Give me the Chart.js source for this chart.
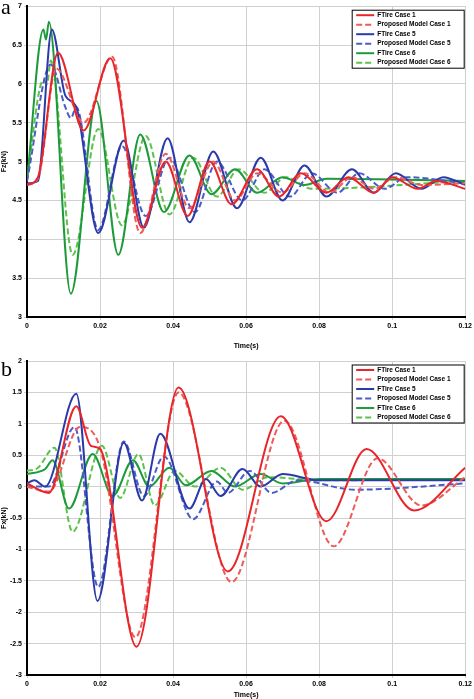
<!DOCTYPE html>
<html><head><script src="https://cdn.jsdelivr.net/npm/chart.js@4"></script>
<style>body{margin:0;background:#fff;width:474px;height:699px;overflow:hidden;font-family:"Liberation Serif"}
.w{position:absolute;left:0;width:474px}.lab{position:absolute;left:1px;font:22px "Liberation Serif";z-index:2}</style></head>
<body>
<div class="w" style="top:0;height:350px"><canvas id="c1"></canvas></div>
<div class="w" style="top:350px;height:349px"><canvas id="c2"></canvas></div>
<div class="lab" style="top:-6px">a</div><div class="lab" style="top:356px">b</div>
<script>
const labels=["FTire Case 1","Proposed Model Case 1","FTire Case 5","Proposed Model Case 5","FTire Case 6","Proposed Model Case 6"];
const colors=["#e8262a","#ef5a5a","#2a3aa8","#4a5cc8","#1d9a3a","#5cc24a"];
const xTicks=[0,0.02,0.04,0.06,0.08,0.1,0.12];
const fzT=[[0,4.7],[0.003,4.8],[0.0085,6.4],[0.0155,5.4],[0.0228,6.33],[0.0315,4.15],[0.038,5.0],[0.044,4.3],[0.05,5.0],[0.056,4.45],[0.063,4.9],[0.069,4.55],[0.075,4.85],[0.082,4.6],[0.088,4.8],[0.095,4.6],[0.1,4.8],[0.107,4.65],[0.112,4.75],[0.12,4.65]];
const fzP1=[[0,4.7],[0.003,4.78],[0.008,6.2],[0.0155,5.5],[0.0233,6.35],[0.031,4.08],[0.038,5.1],[0.0445,4.4],[0.051,5.0],[0.057,4.5],[0.063,4.85],[0.07,4.6],[0.076,4.85],[0.083,4.6],[0.089,4.8],[0.095,4.65],[0.101,4.8],[0.108,4.7],[0.12,4.72]];
const fzT5=[[0,4.72],[0.003,4.75],[0.0068,6.7],[0.0105,5.85],[0.0135,5.7],[0.0195,4.08],[0.0265,5.27],[0.032,4.15],[0.0385,5.3],[0.0445,4.22],[0.051,5.13],[0.0575,4.4],[0.064,5.05],[0.07,4.5],[0.076,4.95],[0.082,4.55],[0.089,4.9],[0.095,4.6],[0.101,4.85],[0.108,4.65],[0.114,4.8],[0.12,4.7]];
const fzP5=[[0,4.75],[0.0065,6.25],[0.0105,5.7],[0.012,5.56],[0.0135,5.7],[0.0195,4.12],[0.026,5.2],[0.0325,4.3],[0.039,5.05],[0.046,4.35],[0.052,5.0],[0.059,4.5],[0.065,4.9],[0.072,4.55],[0.078,4.85],[0.085,4.6],[0.091,4.85],[0.098,4.65],[0.104,4.8],[0.12,4.72]];
const fzT6=[[0,4.75],[0.0045,6.7],[0.0052,6.57],[0.006,6.8],[0.012,3.3],[0.019,5.78],[0.025,3.8],[0.031,5.35],[0.0375,4.35],[0.0445,5.08],[0.0505,4.58],[0.057,4.9],[0.063,4.6],[0.07,4.8],[0.076,4.7],[0.082,4.78],[0.12,4.75]];
const fzP6=[[0,4.8],[0.0045,6.05],[0.0055,6.0],[0.0065,6.3],[0.0125,3.8],[0.0195,5.42],[0.026,4.18],[0.0325,5.33],[0.039,4.32],[0.0455,5.05],[0.052,4.55],[0.058,4.9],[0.065,4.6],[0.071,4.8],[0.078,4.65],[0.12,4.75]];
const fxT1=[[0,0.05],[0.006,-0.1],[0.0135,1.28],[0.0175,0.65],[0.02,0.6],[0.03,-2.55],[0.0415,1.58],[0.055,-1.35],[0.0695,1.12],[0.082,-0.55],[0.093,0.6],[0.106,-0.38],[0.12,0.3]];
const fxP1=[[0,0.0],[0.006,-0.08],[0.0145,0.95],[0.02,0.62],[0.0297,-2.4],[0.0415,1.5],[0.056,-1.52],[0.0705,1.05],[0.084,-0.95],[0.096,0.45],[0.108,-0.3],[0.12,0.15]];
const fxT5=[[0,0.05],[0.002,0.1],[0.005,0.0],[0.0135,1.48],[0.0193,-1.82],[0.0265,0.7],[0.0315,-0.22],[0.0365,0.84],[0.0445,-0.35],[0.049,0.12],[0.053,-0.15],[0.059,0.28],[0.064,0.0],[0.07,0.2],[0.08,0.1],[0.09,0.1],[0.12,0.1]];
const fxP5=[[0,0.0],[0.006,0.0],[0.013,0.95],[0.0195,-1.6],[0.0265,0.72],[0.032,-0.15],[0.0375,0.48],[0.0455,-0.52],[0.052,0.08],[0.055,-0.1],[0.061,0.25],[0.067,-0.1],[0.074,0.1],[0.09,-0.05],[0.12,0.05]];
const fxT6=[[0,0.2],[0.005,0.28],[0.007,0.42],[0.0115,-0.35],[0.018,0.52],[0.0235,-0.15],[0.029,0.42],[0.0335,0.0],[0.039,0.3],[0.0435,0.02],[0.0505,0.25],[0.057,0.0],[0.064,0.2],[0.07,0.05],[0.08,0.12],[0.12,0.12]];
const fxP6=[[0,0.25],[0.003,0.3],[0.0075,0.62],[0.0125,-0.72],[0.0205,0.65],[0.0255,-0.18],[0.0305,0.52],[0.035,-0.3],[0.0405,0.25],[0.046,0.0],[0.053,0.3],[0.059,-0.05],[0.066,0.15],[0.08,0.1],[0.12,0.12]];

const legendBox={id:'lb',afterDraw(c){const x=c.ctx,a=c.chartArea,w=112,h=58,L=a.right-w-1,T=a.top+4;
x.save();x.fillStyle='#fff';x.fillRect(L,T,w,h);x.strokeStyle='#000';x.lineWidth=1;x.strokeRect(L,T,w,h);
x.font='bold 6.5px "Liberation Sans"';x.textBaseline='middle';
c.data.datasets.forEach((d,i)=>{const y=T+5+i*9.5;x.strokeStyle=d.borderColor;x.lineWidth=2;x.setLineDash(d.borderDash||[]);
x.beginPath();x.moveTo(L+4,y);x.lineTo(L+22,y);x.stroke();x.setLineDash([]);x.fillStyle='#000';x.fillText(d.label,L+25,y);});
x.restore();}};

function mk(id,series,ymin,ymax,ytitle,xh,pt){
 const ds=series.map((s,i)=>({label:labels[i],data:s.map(p=>({x:p[0],y:p[1]})),borderColor:colors[i],borderWidth:2,
  borderDash:i%2?[6,3]:[],pointRadius:0,cubicInterpolationMode:'monotone',fill:false}));
 new Chart(document.getElementById(id),{type:'line',data:{datasets:ds},plugins:[legendBox],
 options:{animation:false,responsive:true,maintainAspectRatio:false,layout:{padding:{top:pt,right:3,left:0,bottom:0}},
 plugins:{legend:{display:false},tooltip:{enabled:false}},
 scales:{x:{type:'linear',min:0,max:0.12,afterBuildTicks:ax=>{ax.ticks=xTicks.map(v=>({value:v}))},
   afterFit:ax=>{ax.height=xh},
   ticks:{font:{size:7,weight:'bold',family:'Liberation Sans'},color:'#000',maxRotation:0,padding:2,callback:v=>String(+v.toFixed(2))},
   grid:{color:'#d0d0d0',tickLength:3},border:{color:'#000',width:2},
   title:{display:true,text:'Time(s)',font:{size:7,weight:'bold',family:'Liberation Sans'},color:'#000',padding:0}},
  y:{min:ymin,max:ymax,afterFit:ax=>{ax.width=27},
   ticks:{stepSize:0.5,font:{size:7,weight:'bold',family:'Liberation Sans'},color:'#000',padding:2,callback:v=>String(+v.toFixed(1))},
   grid:{color:'#d0d0d0',tickLength:3},border:{color:'#000',width:2},
   title:{display:true,text:ytitle,font:{size:7,weight:'bold',family:'Liberation Sans'},color:'#000',padding:0}}}}});
}
mk('c1',[fzT,fzP1,fzT5,fzP5,fzT6,fzP6],3,7,'Fz(kN)',33,3);
mk('c2',[fxT1,fxP1,fxT5,fxP5,fxT6,fxP6],-3,2,'Fx(kN)',24,11);
</script></body></html>
